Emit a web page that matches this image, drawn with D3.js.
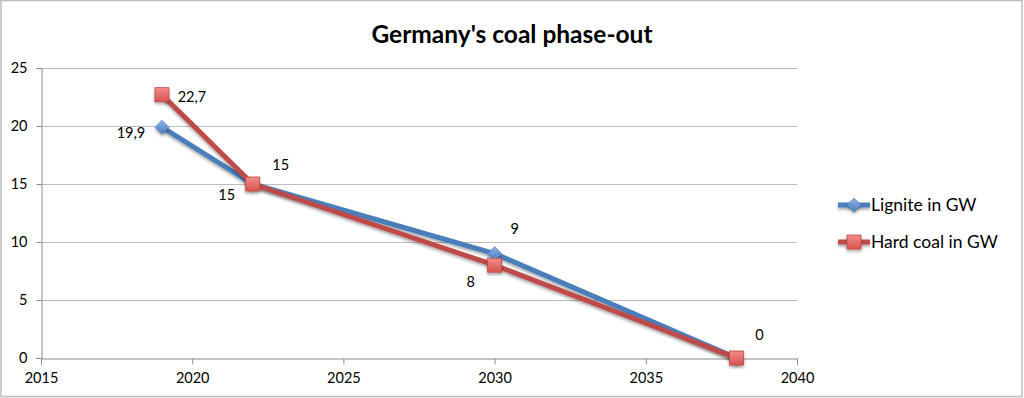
<!DOCTYPE html>
<html>
<head>
<meta charset="utf-8">
<script src="https://cdn.jsdelivr.net/npm/d3@7"></script>
<style>
  html, body { margin: 0; padding: 0; background: #fff; }
  svg { display: block; font-family: Lato, 'Liberation Sans', sans-serif; }
</style>
</head>
<body>
<svg id="chart"></svg>
<script>
  // Data
  var years = [2019, 2022, 2030, 2038]
  var lignite = [19.9, 15, 9, 0]
  var hardCoal = [22.7, 15, 8, 0]
  var lignitelabels = ['19,9', '15', '9', '']
  var hardCoalLabels = ['22,7', '15', '8', '0']
  var xTicks = [2015, 2020, 2025, 2030, 2035, 2040]
  var yTicks = [0, 5, 10, 15, 20, 25]
  var title = "Germany's coal phase-out"

  var WIDTH = 1024
  var HEIGHT = 398
  var margin = { top: 68, left: 41, right: 227, bottom: 40 }

  var svg = d3.select('#chart')
    .attr('width', WIDTH)
    .attr('height', HEIGHT)

  var defs = svg.append('defs')
  // big user-space region so translated markers are not clipped
  var shadow = defs.append('filter').attr('id', 'shadow')
    .attr('filterUnits', 'userSpaceOnUse')
    .attr('x', -WIDTH).attr('y', -HEIGHT).attr('width', WIDTH * 3).attr('height', HEIGHT * 3)
  shadow.append('feDropShadow')
    .attr('dx', 0).attr('dy', 2).attr('stdDeviation', 1.5)
    .attr('flood-color', '#000').attr('flood-opacity', 0.35)

  var gBlue = defs.append('linearGradient').attr('id', 'gBlue')
    .attr('x1', 0).attr('y1', 0).attr('x2', 0).attr('y2', 1)
  gBlue.append('stop').attr('offset', '0%').attr('stop-color', '#8fb3e8')
  gBlue.append('stop').attr('offset', '100%').attr('stop-color', '#4a7ebb')
  var gRed = defs.append('linearGradient').attr('id', 'gRed')
    .attr('x1', 0).attr('y1', 0).attr('x2', 0).attr('y2', 1)
  gRed.append('stop').attr('offset', '0%').attr('stop-color', '#f08c8a')
  gRed.append('stop').attr('offset', '100%').attr('stop-color', '#d9524f')

  // Frame
  svg.append('rect')
    .attr('x', 1).attr('y', 0.5)
    .attr('width', 1021).attr('height', 396)
    .attr('fill', '#fff')
    .attr('stroke', '#bdbdbd')
    .attr('stroke-width', 1.5)

  svg.append('text')
    .attr('x', 512).attr('y', 43)
    .attr('text-anchor', 'middle')
    .attr('font-size', 24.5)
    .attr('font-weight', 'bold')
    .attr('fill', '#000')
    .text(title)

  var x = d3.scaleLinear()
    .domain([2015, 2040])
    .range([margin.left, 797])
  var y = d3.scaleLinear()
    .domain([0, 25])
    .range([HEIGHT - margin.bottom, margin.top])

  // Gridlines
  svg.append('g')
    .selectAll('line')
    .data(yTicks.filter(function (d) { return d > 0 }))
    .enter().append('line')
    .attr('x1', x(2015)).attr('x2', x(2040))
    .attr('y1', function (d) { return y(d) + 0.5 })
    .attr('y2', function (d) { return y(d) + 0.5 })
    .attr('stroke', '#bcbcbc')
    .attr('stroke-width', 1)

  // Axes
  var xAxis = svg.append('g')
    .attr('transform', 'translate(0,' + (y(0) + 0.5) + ')')
    .call(d3.axisBottom(x).tickValues(xTicks).tickFormat(d3.format('d')).tickSize(6).tickPadding(8))
  var yAxis = svg.append('g')
    .attr('transform', 'translate(' + (x(2015) + 0.5) + ',0)')
    .call(d3.axisLeft(y).tickValues(yTicks).tickSize(5).tickPadding(9))

  ;[xAxis, yAxis].forEach(function (a) {
    a.select('.domain').attr('stroke', '#8a8a8a')
    a.selectAll('.tick line').attr('stroke', '#8a8a8a')
    a.selectAll('.tick text')
      .attr('font-family', 'Lato, sans-serif')
      .attr('font-size', 14.5)
      .attr('fill', '#000')
  })

  var line = d3.line()
    .x(function (d) { return x(d[0]) })
    .y(function (d) { return y(d[1]) })

  var series = [
    { name: 'Lignite in GW', values: lignite, labels: lignitelabels, color: '#4a7ebb', fill: 'url(#gBlue)', marker: 'diamond',
      offsets: [[-31, 6], [-26, 11], [20, -25], [0, 0]] },
    { name: 'Hard coal in GW', values: hardCoal, labels: hardCoalLabels, color: '#be4b48', fill: 'url(#gRed)', marker: 'square',
      offsets: [[30, 2], [28, -19], [-24, 17], [23, -23]] }
  ]

  function drawMarker (g, type, fill, stroke) {
    if (type === 'diamond') {
      g.append('path')
        .attr('d', 'M0,-7L7,0L0,7L-7,0Z')
        .attr('fill', fill)
        .attr('stroke', stroke)
        .attr('stroke-width', 0.6)
    } else {
      g.append('rect')
        .attr('x', -7).attr('y', -7)
        .attr('width', 14).attr('height', 14)
        .attr('fill', fill)
        .attr('stroke', stroke)
        .attr('stroke-width', 0.8)
    }
  }

  series.forEach(function (s) {
    var pts = years.map(function (yr, i) { return [yr, s.values[i]] })
    var g = svg.append('g')

    g.append('path')
      .datum(pts)
      .attr('d', line)
      .attr('fill', 'none')
      .attr('stroke', s.color)
      .attr('stroke-width', 5)
      .attr('stroke-linejoin', 'round')
      .attr('filter', 'url(#shadow)')

    g.selectAll('g.marker')
      .data(pts)
      .enter().append('g')
      .attr('class', 'marker')
      .attr('filter', 'url(#shadow)')
      .attr('transform', function (d) { return 'translate(' + x(d[0]) + ',' + y(d[1]) + ')' })
      .each(function () { drawMarker(d3.select(this), s.marker, s.fill, s.color) })

    g.selectAll('text.label')
      .data(pts)
      .enter().append('text')
      .attr('class', 'label')
      .attr('x', function (d, i) { return x(d[0]) + s.offsets[i][0] })
      .attr('y', function (d, i) { return y(d[1]) + s.offsets[i][1] })
      .attr('dy', '0.35em')
      .attr('text-anchor', 'middle')
      .attr('font-size', 14.5)
      .attr('fill', '#000')
      .text(function (d, i) { return s.labels[i] })
  })

  // Legend
  var legend = svg.append('g')
    .selectAll('g')
    .data(series)
    .enter().append('g')
    .attr('transform', function (d, i) { return 'translate(838,' + (205 + i * 37) + ')' })

  legend.append('line')
    .attr('x1', 0).attr('x2', 32)
    .attr('y1', 0).attr('y2', 0)
    .attr('stroke', function (d) { return d.color })
    .attr('stroke-width', 5)
    .attr('filter', 'url(#shadow)')
  legend.append('g')
    .attr('transform', 'translate(16,0)')
    .attr('filter', 'url(#shadow)')
    .each(function (d) { drawMarker(d3.select(this), d.marker, d.fill, d.color) })
  legend.append('text')
    .attr('x', 33)
    .attr('dy', '0.35em')
    .attr('font-size', 17.5)
    .attr('fill', '#000')
    .text(function (d) { return d.name })
</script>
</body>
</html>
